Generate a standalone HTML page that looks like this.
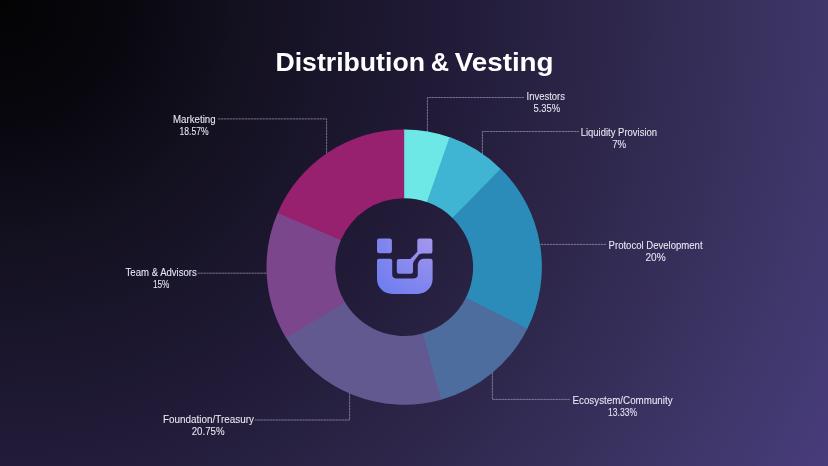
<!DOCTYPE html>
<html lang="en"><head><meta charset="utf-8"><title>Distribution &amp; Vesting</title>
<style>
html,body{margin:0;padding:0}
body{width:828px;height:466px;overflow:hidden;background:#211b38;font-family:"Liberation Sans",sans-serif}
#stage{position:relative;width:828px;height:466px;overflow:hidden;
background:radial-gradient(circle 950px at 0 0,#030304 0,#040406 23px,#08070e 120px,#13101f 235px,#201a36 434px,#2e274b 614px,#3d3566 808px,#40376c 841px,#463b78 927px,#483c7b 950px)}
svg{position:absolute;left:0;top:0;display:block}
.title{font-family:"Liberation Sans",sans-serif;font-weight:700;font-size:25.6px;fill:#fff}
.lab text{font-family:"Liberation Sans",sans-serif;font-size:11.3px;fill:#e9e7f4;stroke:#e9e7f4;stroke-width:.08}
.lead0 polyline{fill:none;stroke:#b9b2dc;stroke-opacity:.25;stroke-width:1}
.lead polyline{fill:none;stroke:#c4bde4;stroke-opacity:.38;stroke-width:1;stroke-dasharray:2 1}
</style></head><body>
<div id="stage">
<svg width="828" height="466" viewBox="0 0 828 466">
<defs><radialGradient id="lg" gradientUnits="userSpaceOnUse" cx="433" cy="238" r="80">
<stop offset="0" stop-color="#a597ee"/><stop offset="1" stop-color="#697bef"/></radialGradient></defs>
<g class="lead0">
<polyline points="217.8,118.9 326.6,118.9 326.6,158"/>
<polyline points="523.8,97.5 427.4,97.5 427.4,136"/>
<polyline points="578.8,131.5 482.4,131.5 482.4,159"/>
<polyline points="606.1,244.4 536,244.4"/>
<polyline points="569.7,399.4 492.4,399.4 492.4,368"/>
<polyline points="254.7,420.0 349.6,420.0 349.6,388"/>
<polyline points="197.7,273.2 272,273.2"/>
</g>
<g class="lead">
<polyline points="217.8,118.9 326.6,118.9 326.6,158"/>
<polyline points="523.8,97.5 427.4,97.5 427.4,136"/>
<polyline points="578.8,131.5 482.4,131.5 482.4,159"/>
<polyline points="606.1,244.4 536,244.4"/>
<polyline points="569.7,399.4 492.4,399.4 492.4,368"/>
<polyline points="254.7,420.0 349.6,420.0 349.6,388"/>
<polyline points="197.7,273.2 272,273.2"/>
</g>
<g class="donut">
<path d="M403.37 129.40A137.7 137.7 0 0 1 450.40 137.38L427.32 202.19A68.9 68.9 0 0 0 403.79 198.20Z" fill="#6ee8e7"/>
<path d="M449.62 137.11A137.7 137.7 0 0 1 501.23 169.40L452.75 218.21A68.9 68.9 0 0 0 426.93 202.06Z" fill="#3fb5d3"/>
<path d="M500.65 168.82A137.7 137.7 0 0 1 527.10 329.19L465.70 298.17A68.9 68.9 0 0 0 452.46 217.92Z" fill="#2b8cba"/>
<path d="M527.48 328.46A137.7 137.7 0 0 1 440.32 399.98L422.27 333.59A68.9 68.9 0 0 0 465.88 297.80Z" fill="#4e6d9f"/>
<path d="M441.12 399.76A137.7 137.7 0 0 1 285.56 337.01L344.84 302.08A68.9 68.9 0 0 0 422.67 333.48Z" fill="#635991"/>
<path d="M285.99 337.72A137.7 137.7 0 0 1 277.91 212.21L341.01 239.64A68.9 68.9 0 0 0 345.05 302.43Z" fill="#7c468d"/>
<path d="M277.59 212.97A137.7 137.7 0 0 1 404.20 129.40L404.20 198.20A68.9 68.9 0 0 0 340.85 240.01Z" fill="#97216f"/>
</g>
<g class="logo" fill="url(#lg)">
<rect x="377" y="238.5" width="14.9" height="14.8" rx="2.2"/>
<path d="M396.8 261.3a2.2 2.2 0 0 1 2.2-2.2H409.4a2 2 0 0 0 1.4-.6L416.7 252.6a2 2 0 0 0 .6-1.4V240.7a2.2 2.2 0 0 1 2.2-2.2H430.2a2.2 2.2 0 0 1 2.2 2.2V251.4a2.2 2.2 0 0 1-2.2 2.2H422.5C420.3 253.6 419.1 254.4 417.8 256L414.2 260.7C413.3 261.9 413 263 413 264.5V271.5a2.2 2.2 0 0 1-2.2 2.2H399a2.2 2.2 0 0 1-2.2-2.2Z"/>
<path d="M377 260.700a2 2 0 0 1 2-2h11.200a2 2 0 0 1 2 2V274.600a3.800 3.800 0 0 0 3.800 3.800h18a3.800 3.800 0 0 0 3.800-3.800V266C417.800 262.500 419.500 258.700 423.500 258.700h7.100a2 2 0 0 1 2 2V279a15 15 0 0 1-15 15H392a15 15 0 0 1-15-15Z"/>
</g>
<g class="ttl">
<text class="title" x="275.4" y="70.5" textLength="149.6" lengthAdjust="spacingAndGlyphs">Distribution</text>
<text class="title" x="430.8" y="70.5" textLength="18.3" lengthAdjust="spacingAndGlyphs">&amp;</text>
<text class="title" x="454.7" y="70.5" textLength="98.9" lengthAdjust="spacingAndGlyphs">Vesting</text>
</g>
<g class="lab">
<text x="173.0" y="122.8" textLength="42.6" lengthAdjust="spacingAndGlyphs">Marketing</text>
<text x="179.5" y="134.7" textLength="29.1" lengthAdjust="spacingAndGlyphs">18.57%</text>
<text x="526.6" y="99.9" textLength="38.4" lengthAdjust="spacingAndGlyphs">Investors</text>
<text x="533.5" y="111.6" textLength="26.7" lengthAdjust="spacingAndGlyphs">5.35%</text>
<text x="580.7" y="135.7" textLength="76.4" lengthAdjust="spacingAndGlyphs">Liquidity Provision</text>
<text x="612.2" y="147.6" textLength="14.0" lengthAdjust="spacingAndGlyphs">7%</text>
<text x="608.6" y="248.9" textLength="94.0" lengthAdjust="spacingAndGlyphs">Protocol Development</text>
<text x="645.5" y="260.8" textLength="20.2" lengthAdjust="spacingAndGlyphs">20%</text>
<text x="572.5" y="403.9" textLength="100.1" lengthAdjust="spacingAndGlyphs">Ecosystem/Community</text>
<text x="608.0" y="415.7" textLength="29.1" lengthAdjust="spacingAndGlyphs">13.33%</text>
<text x="163.0" y="422.6" textLength="90.9" lengthAdjust="spacingAndGlyphs">Foundation/Treasury</text>
<text x="191.7" y="434.6" textLength="32.8" lengthAdjust="spacingAndGlyphs">20.75%</text>
<text x="125.6" y="275.9" textLength="71.2" lengthAdjust="spacingAndGlyphs">Team &amp; Advisors</text>
<text x="152.9" y="287.7" textLength="16.5" lengthAdjust="spacingAndGlyphs">15%</text>
</g>
</svg>
</div>
</body></html>
